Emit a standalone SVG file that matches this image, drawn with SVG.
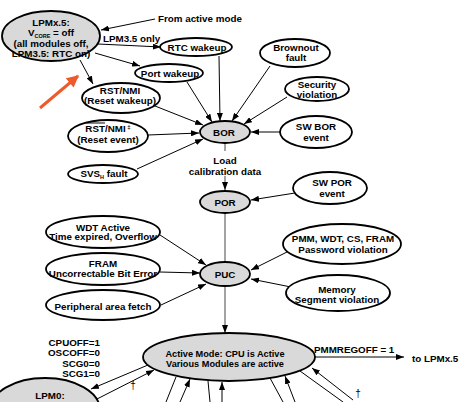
<svg xmlns="http://www.w3.org/2000/svg" width="474" height="402" viewBox="0 0 474 402">
<defs>
<style>
text{font-family:"Liberation Sans",Arial,Helvetica,sans-serif;font-weight:bold;font-size:9.8px;fill:#000;text-anchor:middle}
.n{fill:#fff;stroke:#000;stroke-width:1.8}
.g{fill:#d9d9d9;stroke:#000;stroke-width:1.8}
.c{stroke:#000;stroke-width:1;fill:none}
.v{stroke:#666;stroke-width:1.2;fill:none}
.am{font-size:9.2px}
.r{text-anchor:end}
.s{text-anchor:start}
</style>
<marker id="a" viewBox="0 0 8 6" refX="8" refY="3" markerWidth="8" markerHeight="6" markerUnits="userSpaceOnUse" orient="auto"><path d="M0,0L8,3L0,6z" fill="#000"/></marker>
<marker id="ar" viewBox="0 0 10 10" refX="9" refY="5" markerWidth="13" markerHeight="12" markerUnits="userSpaceOnUse" orient="auto"><path d="M0,0L10,5L0,10z" fill="#ee5a2a"/></marker>
</defs>

<g id="connectors">
<line class="c" x1="155" y1="19" x2="101" y2="30" marker-end="url(#a)"/>
<line class="c" x1="98" y1="44" x2="161" y2="47" marker-end="url(#a)"/>
<line class="c" x1="95" y1="53" x2="140" y2="66" marker-end="url(#a)"/>
<line class="c" x1="80" y1="60" x2="93" y2="84" marker-end="url(#a)"/>
<line class="c" x1="219" y1="56" x2="220" y2="121" marker-end="url(#a)"/>
<line class="c" x1="187" y1="82" x2="212" y2="122" marker-end="url(#a)"/>
<line class="c" x1="155" y1="106" x2="203" y2="125" marker-end="url(#a)"/>
<line class="c" x1="270" y1="66" x2="232" y2="121" marker-end="url(#a)"/>
<line class="c" x1="287" y1="97" x2="244" y2="124" marker-end="url(#a)"/>
<line class="c" x1="280" y1="132" x2="251" y2="132" marker-end="url(#a)"/>
<line class="c" x1="148" y1="135" x2="199" y2="133" marker-end="url(#a)"/>
<line class="c" x1="137" y1="169" x2="203" y2="139" marker-end="url(#a)"/>
<line class="v" x1="225" y1="143" x2="225" y2="151"/>
<line class="v" x1="225" y1="176" x2="225" y2="190" marker-end="url(#a)"/>
<line class="c" x1="295" y1="193" x2="251" y2="200" marker-end="url(#a)"/>
<line class="v" x1="225" y1="213" x2="225" y2="262"/>
<line class="c" x1="160" y1="235" x2="206" y2="265" marker-end="url(#a)"/>
<line class="c" x1="160" y1="272" x2="200" y2="273" marker-end="url(#a)"/>
<line class="c" x1="161" y1="305" x2="206" y2="284" marker-end="url(#a)"/>
<line class="c" x1="287" y1="252" x2="251" y2="270" marker-end="url(#a)"/>
<line class="c" x1="291" y1="287" x2="251" y2="279" marker-end="url(#a)"/>
<line class="v" x1="225" y1="286" x2="225" y2="333" marker-end="url(#a)"/>
<line class="c" x1="315" y1="357" x2="404" y2="357" marker-end="url(#a)"/>
<line class="c" x1="148" y1="365" x2="91" y2="389" marker-end="url(#a)"/>
<line class="c" x1="97" y1="399" x2="154" y2="370" marker-end="url(#a)"/>
<line class="c" x1="176" y1="377" x2="166" y2="402"/>
<line class="c" x1="180" y1="402" x2="190" y2="379" marker-end="url(#a)"/>
<line class="c" x1="208" y1="381" x2="210" y2="402"/>
<line class="c" x1="222" y1="402" x2="222" y2="382" marker-end="url(#a)"/>
<line class="c" x1="270" y1="378" x2="283" y2="402"/>
<line class="c" x1="295" y1="402" x2="285" y2="376" marker-end="url(#a)"/>
<line class="c" x1="300" y1="371" x2="343" y2="402"/>
<line class="c" x1="353" y1="400" x2="312" y2="368" marker-end="url(#a)"/>
<line x1="40" y1="108" x2="78" y2="76" stroke="#ee5a2a" stroke-width="3" marker-end="url(#ar)"/>
</g>

<g id="lpmx5">
<ellipse class="g" cx="51" cy="36" rx="49" ry="25"/>
<text x="51" y="25.5">LPMx.5:</text>
<text x="51" y="36">V<tspan font-size="5.5" dy="1.5">CORE</tspan><tspan dy="-1.5"> = off</tspan></text>
<text x="51" y="46.5">(all modules off,</text>
<text x="51" y="57">LPM3.5: RTC on)</text>
</g>
<g id="from-active"><text class="s" x="158" y="22">From active mode</text></g>
<g id="lpm35-label"><text class="s" x="103" y="42">LPM3.5 only</text></g>

<g id="rtc"><ellipse class="n" cx="196" cy="47" rx="36" ry="9"/><text x="197" y="50.5">RTC wakeup</text></g>
<g id="port"><ellipse class="n" cx="169" cy="73" rx="34" ry="9"/><text x="170" y="76.5">Port wakeup</text></g>
<g id="rst1"><ellipse class="n" cx="121" cy="98" rx="39" ry="15"/><text x="120" y="93.5">RST/NMI</text><text x="120" y="104">(Reset wakeup)</text></g>
<g id="brownout"><ellipse class="n" cx="295" cy="53" rx="35" ry="14"/><text x="296" y="50.5">Brownout</text><text x="296" y="61">fault</text></g>
<g id="security"><ellipse class="n" cx="317" cy="89" rx="32" ry="12"/><text x="317" y="88">Security</text><text x="317" y="98">violation</text></g>
<g id="swbor"><ellipse class="n" cx="316" cy="132" rx="36" ry="16"/><text x="316" y="129.5">SW BOR</text><text x="316" y="140.5">event</text></g>
<g id="rst2"><ellipse class="n" cx="108" cy="136" rx="40" ry="16"/><text x="108" y="131.5"><tspan text-decoration="overline">RST</tspan>/NMI<tspan font-size="6" dy="-3"> ‡</tspan></text><text x="108" y="142.5">(Reset event)</text></g>
<g id="svsh"><ellipse class="n" cx="103" cy="174" rx="35" ry="9"/><text x="104" y="177">SVS<tspan font-size="5.5" dy="1.5">H</tspan><tspan dy="-1.5"> fault</tspan></text></g>
<g id="bor"><ellipse class="g" cx="225" cy="132" rx="25" ry="11"/><text x="224" y="136">BOR</text></g>
<g id="load-label"><text x="225" y="163.5">Load</text><text x="225" y="174.5">calibration data</text></g>
<g id="por"><ellipse class="g" cx="225" cy="202" rx="25" ry="11"/><text x="225" y="206">POR</text></g>
<g id="swpor"><ellipse class="n" cx="330" cy="188" rx="37" ry="16"/><text x="332" y="185.5">SW POR</text><text x="332" y="196.5">event</text></g>
<g id="wdt"><ellipse class="n" cx="103" cy="232" rx="57" ry="16"/><text x="103" y="230.5">WDT Active</text><text x="103" y="240">Time expired, Overflow</text></g>
<g id="fram"><ellipse class="n" cx="103" cy="269" rx="57" ry="16"/><text x="103" y="266.5">FRAM</text><text x="103" y="276.5">Uncorrectable Bit Error</text></g>
<g id="periph"><ellipse class="n" cx="103" cy="305" rx="57" ry="15"/><text x="103" y="309.5">Peripheral area fetch</text></g>
<g id="puc"><ellipse class="g" cx="225" cy="274" rx="25" ry="12"/><text x="225" y="278">PUC</text></g>
<g id="pmm"><ellipse class="n" cx="342" cy="244" rx="59" ry="20"/><text x="343" y="241.5">PMM, WDT, CS, FRAM</text><text x="343" y="252.5">Password violation</text></g>
<g id="memory"><ellipse class="n" cx="338" cy="293" rx="52" ry="18"/><text x="337" y="292.5">Memory</text><text x="337" y="302.5">Segment violation</text></g>
<g id="active"><ellipse class="g" cx="229" cy="357" rx="86" ry="24"/><text class="am" x="225" y="356.5">Active Mode: CPU is Active</text><text class="am" x="225" y="366.5">Various Modules are active</text></g>
<g id="pmmregoff"><text class="s" x="314" y="352.5">PMMREGOFF = 1</text></g>
<g id="to-lpmx5"><text class="s" x="412" y="361.5">to LPMx.5</text></g>
<g id="lpm0-cond"><text class="r" x="100" y="345.5">CPUOFF=1</text><text class="r" x="100" y="356">OSCOFF=0</text><text class="r" x="100" y="366.5">SCG0=0</text><text class="r" x="100" y="377">SCG1=0</text></g>
<g id="lpm0"><ellipse class="g" cx="45" cy="410" rx="55" ry="32"/><text x="50" y="399">LPM0:</text></g>
<g id="daggers"><text x="133" y="389" style="font-weight:normal;font-size:10px">†</text><text x="358" y="397" style="font-weight:normal;font-size:10px">†</text></g>
</svg>
